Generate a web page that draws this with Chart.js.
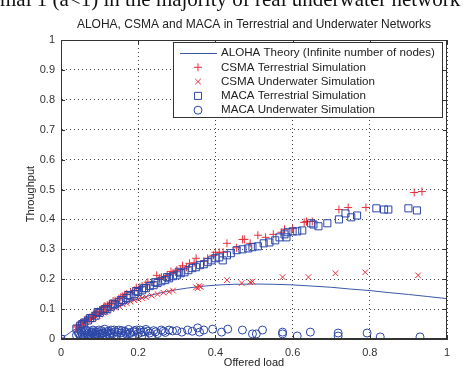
<!DOCTYPE html>
<html>
<head>
<meta charset="utf-8">
<script src="https://cdn.jsdelivr.net/npm/chart.js@4.4.1/dist/chart.umd.min.js"></script>
<style>
  html, body { margin: 0; padding: 0; background: #fff; overflow: hidden; }
  #wrap { width: 474px; height: 368px; position: relative; }
</style>
</head>
<body>
<div id="wrap"><canvas id="chart" width="474" height="368"></canvas></div>
<script>
// tick labels
const xTicks = [0, 0.2, 0.4, 0.6, 0.8, 1];
const yTicks = [0, 0.1, 0.2, 0.3, 0.4, 0.5, 0.6, 0.7, 0.8, 0.9, 1];

const seriesNames = [
  'ALOHA Theory (Infinite number of nodes)',
  'CSMA Terrestrial Simulation',
  'CSMA Underwater Simulation',
  'MACA Terrestrial Simulation',
  'MACA Underwater Simulation'
];

// ALOHA theory curve
const alohaTheory = [
  [0, 0], [0.05, 0.045], [0.1, 0.082], [0.15, 0.111], [0.2, 0.134], [0.25, 0.152],
  [0.3, 0.165], [0.35, 0.174], [0.4, 0.18], [0.45, 0.183], [0.5, 0.184], [0.55, 0.183],
  [0.6, 0.181], [0.65, 0.177], [0.7, 0.173], [0.75, 0.167], [0.8, 0.162], [0.85, 0.155],
  [0.9, 0.149], [0.95, 0.142], [1, 0.135]
];

const csmaTerrestrial = [
  [0.04, 0.04], [0.045, 0.045], [0.05, 0.05], [0.055, 0.055], [0.06, 0.058], [0.065, 0.065],
  [0.07, 0.068], [0.075, 0.072], [0.08, 0.078], [0.085, 0.082], [0.09, 0.088], [0.095, 0.092],
  [0.1, 0.097], [0.105, 0.1], [0.11, 0.105], [0.115, 0.108], [0.12, 0.113], [0.125, 0.117],
  [0.13, 0.12], [0.14, 0.128], [0.15, 0.135], [0.155, 0.14], [0.16, 0.143], [0.17, 0.15],
  [0.18, 0.157], [0.19, 0.163], [0.204, 0.173], [0.21, 0.177], [0.22, 0.183], [0.235, 0.19],
  [0.248, 0.213], [0.26, 0.207], [0.275, 0.213], [0.29, 0.22], [0.3, 0.23], [0.31, 0.233],
  [0.325, 0.24], [0.333, 0.253], [0.35, 0.27], [0.37, 0.26], [0.38, 0.27], [0.395, 0.28],
  [0.41, 0.29], [0.42, 0.29], [0.43, 0.32], [0.455, 0.305], [0.47, 0.333], [0.475, 0.333],
  [0.49, 0.32], [0.51, 0.347], [0.53, 0.34], [0.55, 0.35], [0.571, 0.357], [0.579, 0.367],
  [0.6, 0.37], [0.63, 0.39], [0.636, 0.393], [0.651, 0.393], [0.72, 0.433], [0.744, 0.44],
  [0.79, 0.44], [0.915, 0.49], [0.935, 0.493],
  [0.062, 0.064], [0.088, 0.084], [0.112, 0.11], [0.135, 0.127], [0.165, 0.148], [0.195, 0.172],
  [0.225, 0.19], [0.255, 0.203], [0.285, 0.226], [0.315, 0.245], [0.345, 0.255], [0.4, 0.29]
];

const csmaUnderwater = [
  [0.04, 0.037], [0.045, 0.041], [0.05, 0.046], [0.055, 0.05], [0.06, 0.054], [0.065, 0.057],
  [0.07, 0.061], [0.075, 0.065], [0.08, 0.068], [0.085, 0.071], [0.09, 0.075], [0.095, 0.078],
  [0.1, 0.082], [0.105, 0.085], [0.11, 0.088], [0.115, 0.09], [0.12, 0.094], [0.13, 0.1],
  [0.14, 0.105], [0.15, 0.11], [0.16, 0.116], [0.17, 0.12], [0.18, 0.125], [0.19, 0.13],
  [0.2, 0.133], [0.21, 0.137], [0.22, 0.14], [0.235, 0.145], [0.25, 0.15], [0.265, 0.155],
  [0.28, 0.158], [0.29, 0.162], [0.35, 0.173], [0.354, 0.17], [0.358, 0.177], [0.362, 0.174],
  [0.43, 0.197], [0.468, 0.187], [0.49, 0.19], [0.496, 0.192], [0.574, 0.207], [0.641, 0.207],
  [0.711, 0.22], [0.788, 0.223], [0.925, 0.213]
];

const macaTerrestrial = [
  [0, 0], [0.04, 0.035], [0.05, 0.045], [0.06, 0.055], [0.07, 0.062], [0.08, 0.07],
  [0.09, 0.078], [0.1, 0.087], [0.11, 0.095], [0.12, 0.1], [0.13, 0.108], [0.14, 0.115],
  [0.15, 0.123], [0.16, 0.13], [0.17, 0.137], [0.18, 0.143], [0.19, 0.15], [0.2, 0.157],
  [0.21, 0.163], [0.22, 0.17], [0.23, 0.177], [0.24, 0.18], [0.25, 0.187], [0.26, 0.193],
  [0.27, 0.197], [0.28, 0.203], [0.29, 0.21], [0.3, 0.213], [0.31, 0.22], [0.32, 0.223],
  [0.33, 0.23], [0.34, 0.237], [0.35, 0.24], [0.36, 0.247], [0.37, 0.25], [0.38, 0.257],
  [0.39, 0.263], [0.4, 0.27], [0.41, 0.273], [0.419, 0.263], [0.43, 0.28], [0.44, 0.287],
  [0.455, 0.297], [0.47, 0.3], [0.485, 0.303], [0.496, 0.307], [0.51, 0.31], [0.525, 0.32],
  [0.54, 0.323], [0.555, 0.33], [0.566, 0.34], [0.579, 0.35], [0.584, 0.34], [0.587, 0.357],
  [0.6, 0.36], [0.612, 0.36], [0.625, 0.363], [0.648, 0.387], [0.654, 0.383], [0.667, 0.377],
  [0.69, 0.387], [0.72, 0.4], [0.737, 0.42], [0.752, 0.407], [0.767, 0.413], [0.817, 0.437],
  [0.837, 0.433], [0.848, 0.433], [0.9, 0.437], [0.922, 0.43],
  [0.055, 0.05], [0.075, 0.07], [0.095, 0.09], [0.115, 0.1], [0.135, 0.118], [0.155, 0.13],
  [0.175, 0.147], [0.195, 0.16], [0.215, 0.17], [0.245, 0.19], [0.275, 0.207], [0.305, 0.225]
];

const macaUnderwater = [
  [0.04, 0.012], [0.045, 0.02], [0.05, 0.008], [0.052, 0.025], [0.055, 0.015], [0.058, 0.005],
  [0.06, 0.022], [0.063, 0.012], [0.066, 0.03], [0.068, 0.018], [0.07, 0.008], [0.073, 0.025],
  [0.076, 0.015], [0.078, 0.005], [0.08, 0.02], [0.083, 0.03], [0.086, 0.01], [0.088, 0.018],
  [0.09, 0.025], [0.093, 0.012], [0.096, 0.022], [0.1, 0.006], [0.102, 0.016], [0.105, 0.028],
  [0.108, 0.012], [0.11, 0.02], [0.113, 0.033], [0.116, 0.008], [0.12, 0.018], [0.123, 0.026],
  [0.126, 0.012], [0.13, 0.03], [0.133, 0.018], [0.137, 0.008], [0.14, 0.024], [0.145, 0.014],
  [0.15, 0.03], [0.155, 0.02], [0.16, 0.01], [0.165, 0.026], [0.17, 0.016], [0.175, 0.032],
  [0.18, 0.022], [0.185, 0.012], [0.19, 0.028], [0.2, 0.018], [0.205, 0.03], [0.21, 0.012],
  [0.215, 0.024], [0.22, 0.032], [0.23, 0.02], [0.235, 0.01], [0.24, 0.028], [0.25, 0.018],
  [0.26, 0.03], [0.27, 0.022], [0.289, 0.027], [0.313, 0.023], [0.328, 0.03], [0.354, 0.037],
  [0.359, 0.023], [0.393, 0.033], [0.416, 0.023], [0.432, 0.033], [0.47, 0.03], [0.496, 0.017],
  [0.506, 0.017], [0.522, 0.03], [0.574, 0.023], [0.574, 0.017], [0.612, 0.01], [0.646, 0.023],
  [0.718, 0.02], [0.718, 0.01], [0.793, 0.02], [0.827, 0.007], [0.93, 0.007],
  [0.048, 0.016], [0.062, 0.028], [0.071, 0.014], [0.081, 0.024], [0.091, 0.016], [0.098, 0.03],
  [0.106, 0.02], [0.118, 0.024], [0.128, 0.02], [0.138, 0.03], [0.147, 0.022], [0.158, 0.028],
  [0.168, 0.022], [0.178, 0.018], [0.188, 0.024], [0.196, 0.03], [0.208, 0.022], [0.225, 0.026],
  [0.245, 0.024], [0.265, 0.026], [0.28, 0.03], [0.3, 0.028], [0.34, 0.026], [0.37, 0.03]
];

const RED = '#e8303c';
const BLUE = '#2c46a8';
const FONT = '"Liberation Sans", Arial, sans-serif';

const toXY = arr => arr.map(p => ({ x: p[0], y: p[1] }));

// how each series looks in the legend
const legendItems = [
  { line: true, color: '#3a58a8' },
  { style: 'cross', color: RED, radius: 4 },
  { style: 'crossRot', color: RED, radius: 4 },
  { style: 'rect', color: BLUE, radius: 5 },
  { style: 'circle', color: BLUE, radius: 4 }
];

// frame, inward ticks, legend box, titles (MATLAB look)
const matlabFrame = {
  id: 'matlabFrame',
  afterDraw(chart) {
    const ctx = chart.ctx;
    const a = chart.chartArea;
    const xs = chart.scales.x, ys = chart.scales.y;
    ctx.save();

    // the clipped line of paper text above the figure
    ctx.fillStyle = '#111';
    ctx.font = '21px "Liberation Serif", "Times New Roman", serif';
    ctx.textBaseline = 'alphabetic';
    ctx.textAlign = 'left';
    ctx.fillText('mal 1 (a<1) in the majority of real underwater network', 0, 6, 476);

    // box
    ctx.strokeStyle = '#333';
    ctx.lineWidth = 1;
    ctx.strokeRect(a.left + 0.5, a.top + 0.5, a.right - a.left - 1, a.bottom - a.top - 1);

    // inward tick marks on all sides
    ctx.beginPath();
    xTicks.forEach(v => {
      const px = Math.round(xs.getPixelForValue(v)) + 0.5;
      ctx.moveTo(px, a.bottom); ctx.lineTo(px, a.bottom - 4);
      ctx.moveTo(px, a.top); ctx.lineTo(px, a.top + 4);
    });
    yTicks.forEach(v => {
      const py = Math.round(ys.getPixelForValue(v)) + 0.5;
      ctx.moveTo(a.left, py); ctx.lineTo(a.left + 4, py);
      ctx.moveTo(a.right, py); ctx.lineTo(a.right - 4, py);
    });
    ctx.stroke();

    // legend
    const lx = 173, ly = 42, lw = 269, lh = 75;
    ctx.fillStyle = '#fff';
    ctx.fillRect(lx, ly, lw, lh);
    ctx.strokeStyle = '#333';
    ctx.strokeRect(lx + 0.5, ly + 0.5, lw, lh);
    ctx.font = '11.6px ' + FONT;
    ctx.textBaseline = 'middle';
    legendItems.forEach((it, i) => {
      const y = 53 + i * 14.3;
      ctx.strokeStyle = it.color;
      ctx.lineWidth = 1;
      if (it.line) {
        ctx.beginPath();
        ctx.moveTo(180, Math.round(y) + 0.5);
        ctx.lineTo(217, Math.round(y) + 0.5);
        ctx.stroke();
      } else {
        ctx.fillStyle = 'rgba(0,0,0,0)';
        Chart.helpers.drawPoint(ctx, { pointStyle: it.style, radius: it.radius, rotation: 0, borderWidth: 1 }, 198, y);
      }
      ctx.fillStyle = '#222';
      ctx.fillText(seriesNames[i], 221, y);
    });

    // title and axis labels
    ctx.fillStyle = '#222';
    ctx.textAlign = 'center';
    ctx.font = '12px ' + FONT;
    ctx.fillText('ALOHA, CSMA and MACA in Terrestrial and Underwater Networks', (a.left + a.right) / 2, 25);
    ctx.font = '11px ' + FONT;
    ctx.fillText('Offered load', (a.left + a.right) / 2, 363);
    ctx.translate(31, 194);
    ctx.rotate(-Math.PI / 2);
    ctx.fillText('Throughput', 0, 0);
    ctx.restore();
  }
};

const ctx = document.getElementById('chart');

new Chart(ctx, {
  type: 'scatter',
  data: {
    datasets: [
      {
        label: seriesNames[0],
        data: toXY(alohaTheory),
        showLine: true,
        borderColor: '#3a58a8',
        borderWidth: 1,
        pointRadius: 0,
        cubicInterpolationMode: 'monotone',
        order: 4
      },
      {
        label: seriesNames[1],
        data: toXY(csmaTerrestrial),
        pointStyle: 'cross',
        pointRadius: 4,
        borderColor: RED,
        borderWidth: 1,
        backgroundColor: 'transparent',
        order: 3
      },
      {
        label: seriesNames[2],
        data: toXY(csmaUnderwater),
        pointStyle: 'crossRot',
        pointRadius: 4,
        borderColor: RED,
        borderWidth: 1,
        backgroundColor: 'transparent',
        order: 2
      },
      {
        label: seriesNames[3],
        data: toXY(macaTerrestrial),
        pointStyle: 'rect',
        pointRadius: 5,
        borderColor: BLUE,
        borderWidth: 1,
        backgroundColor: 'transparent',
        order: 1
      },
      {
        label: seriesNames[4],
        data: toXY(macaUnderwater),
        pointStyle: 'circle',
        pointRadius: 4,
        borderColor: BLUE,
        borderWidth: 1,
        backgroundColor: 'transparent',
        order: 0
      }
    ]
  },
  options: {
    responsive: false,
    animation: false,
    devicePixelRatio: 1,
    layout: { padding: { top: 40, right: 27, bottom: 0, left: 0 } },
    plugins: {
      legend: { display: false },
      title: { display: false },
      tooltip: { enabled: false }
    },
    scales: {
      x: {
        type: 'linear',
        min: 0,
        max: 1,
        afterBuildTicks: s => { s.ticks = xTicks.map(v => ({ value: v })); },
        afterFit: s => { s.height = 29; },
        grid: { color: '#444', lineWidth: 1, drawTicks: false },
        border: { display: true, color: '#333', dash: [1, 3] },
        ticks: {
          padding: 7,
          color: '#333',
          font: { family: FONT, size: 11 },
          maxRotation: 0,
          callback: v => String(v)
        }
      },
      y: {
        type: 'linear',
        min: 0,
        max: 1,
        afterBuildTicks: s => { s.ticks = yTicks.map(v => ({ value: v })); },
        afterFit: s => { s.width = 61; },
        grid: { color: '#444', lineWidth: 1, drawTicks: false },
        border: { display: true, color: '#333', dash: [1, 3] },
        ticks: {
          padding: 6,
          color: '#333',
          font: { family: FONT, size: 11 },
          callback: v => String(v)
        }
      }
    }
  },
  plugins: [matlabFrame]
});
</script>
</body>
</html>
